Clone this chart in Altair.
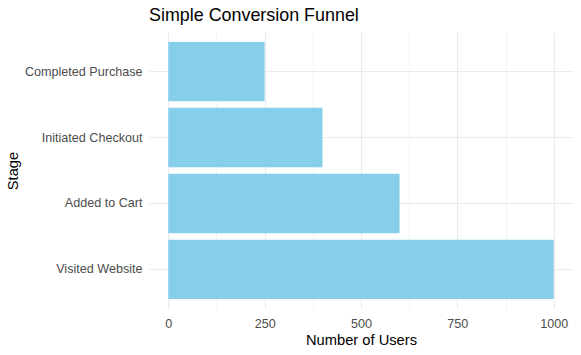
import altair as alt
import pandas as pd

stages = ["Visited Website", "Added to Cart", "Initiated Checkout", "Completed Purchase"]
users = [1000, 600, 400, 250]
x_ticks = [0, 125, 250, 375, 500, 625, 750, 875, 1000]

df = pd.DataFrame({"Stage": stages, "Users": users})

FONT = "Liberation Sans"

chart = alt.Chart(df).mark_bar(color="#87CEEB").encode(
    x=alt.X(
        "Users:Q",
        title="Number of Users",
        scale=alt.Scale(domain=[-50, 1050], nice=False, zero=False),
        axis=alt.Axis(
            values=x_ticks,
            format="d",
            labelExpr="datum.value % 250 === 0 ? datum.label : ''",
            domain=False,
            ticks=False,
            grid=True,
            gridColor="#EBEBEB",
            gridWidth={"condition": {"test": "datum.value % 250 === 0", "value": 1.1}, "value": 0.55},
            labelColor="#4D4D4D",
            labelFontSize=12.6,
            labelFont=FONT,
            labelPadding=8,
            titleFont=FONT,
            titleFontSize=14.7,
            titleFontWeight="normal",
            titleColor="#000000",
            titlePadding=3,
        ),
    ),
    y=alt.Y(
        "Stage:N",
        title="Stage",
        sort=stages[::-1],
        scale=alt.Scale(paddingInner=0.1, paddingOuter=0.15),
        axis=alt.Axis(
            domain=False,
            ticks=False,
            grid=True,
            bandPosition=0.5,
            gridColor="#EBEBEB",
            gridWidth=1.1,
            labelColor="#4D4D4D",
            labelFontSize=12.6,
            labelFont=FONT,
            labelPadding=7,
            titleFont=FONT,
            titleFontSize=14.7,
            titleFontWeight="normal",
            titleColor="#000000",
            titlePadding=4,
        ),
    ),
).properties(
    width=424,
    height=277,
    autosize=alt.AutoSizeParams(type="none"),
    padding={"left": 149, "top": 32, "right": 8, "bottom": 46},
    background="white",
    title=alt.TitleParams(
        "Simple Conversion Funnel",
        anchor="start",
        frame="group",
        font=FONT,
        fontSize=17.9,
        fontWeight="normal",
        color="#000000",
        offset=7,
    ),
).configure_view(stroke=None)

chart.save("out.html", embed_options={"renderer": "svg", "actions": False})
